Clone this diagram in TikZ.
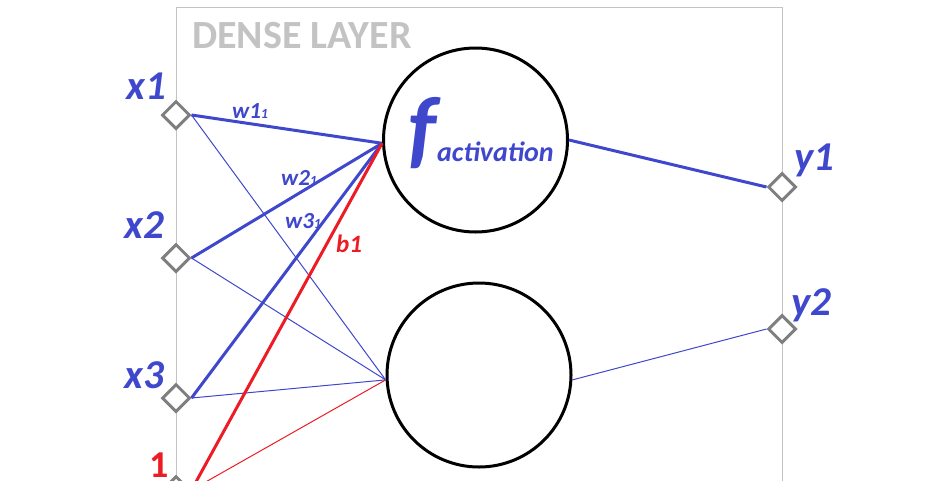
\documentclass[tikz,border=0pt]{standalone}
\usepackage{fontspec}
\setmainfont{Carlito}
\usepackage{tikz}
\usetikzlibrary{shapes}
\definecolor{wblue}{RGB}{63,72,204}
\definecolor{bred}{RGB}{237,28,36}
\definecolor{portgray}{RGB}{127,127,127}
\definecolor{framegray}{RGB}{195,195,195}
\newcommand{\setsz}[1]{\fontsize{#1}{#1}\selectfont}
\newcommand{\wsub}[1]{w#1{\setsz{14}1}}
\tikzstyle{port}=[diamond,inner sep=0,minimum size=28pt,draw=portgray,line width=3pt,fill=white]
\tikzstyle{neuron}=[circle,inner sep=0,minimum size=184pt,draw=black,line width=3pt,fill=white]
\tikzstyle{strong}=[line width=3pt]
\tikzstyle{weak}=[line width=1pt]
\tikzstyle{iolabel}=[anchor=base west,inner sep=0,font=\setsz{41}\bfseries\itshape]
\tikzstyle{wlabel}=[anchor=base west,inner sep=0,text=wblue,font=\setsz{23}\bfseries\itshape]

\begin{document}
\begin{tikzpicture}[x=1pt,y=-1pt]
  \useasboundingbox (0,0) rectangle (945,480);
  \clip (0,0) rectangle (945,480);
  \draw [framegray, line width=1pt] (176,7) rectangle (782,520);
  \node [anchor=base west, inner sep=0, text=framegray, font=\setsz{40}\bfseries] at (192,48) (title) {DENSE LAYER};

  \node [port] at (176, 115) (x1) {};
  \node [port] at (176, 258) (x2) {};
  \node [port] at (176, 398) (x3) {};
  \node [port] at (176, 490) (one) {};
  \node [port] at (782, 187) (y1) {};
  \node [port] at (782, 329) (y2) {};
  \node [neuron] at (475.5, 140) (n1) {};
  \node [neuron] at (479, 375) (n2) {};

  \draw [weak, wblue] (x1.east) -- (n2.183);
  \draw [weak, wblue] (x2.east) -- (n2.183);
  \draw [weak, wblue] (x3.east) -- (n2.183);
  \draw [weak, bred] (one.east) -- (n2.183);
  \draw [weak, wblue] (n2.357) -- (y2.west);
  \draw [strong, wblue] (x1.east) -- (n1.182);
  \draw [strong, wblue] (x2.east) -- (n1.182);
  \draw [strong, wblue] (x3.east) -- (n1.182);
  \draw [strong, bred] (one.east) -- (n1.182);
  \draw [strong, wblue] (n1.east) -- (y1.west);

  \node [iolabel, text=wblue] at (126, 99) (lx1) {x1};
  \node [iolabel, text=wblue] at (124, 238) (lx2) {x2};
  \node [iolabel, text=wblue] at (124, 388) (lx3) {x3};
  \node [iolabel, text=bred, font=\setsz{38}\bfseries] at (149, 477) (lone) {1};
  \node [iolabel, text=wblue] at (794, 170) (ly1) {y1};
  \node [iolabel, text=wblue] at (791, 315) (ly2) {y2};

  \node [wlabel] at (232, 118) (w1) {\wsub{1}};
  \node [wlabel] at (281, 185) (w2) {\wsub{2}};
  \node [wlabel] at (285, 228) (w3) {\wsub{3}};
  \node [wlabel, text=bred, font=\setsz{25}\bfseries\itshape] at (336, 252) (b1) {b1};

  \node [anchor=base west, inner sep=0, text=wblue, font=\setsz{88}\bfseries\itshape] at (408, 158) (f) {f};
  \node [anchor=base west, inner sep=0, text=wblue, font=\setsz{28}\bfseries\itshape] at (437, 161) (act) {activation};
\end{tikzpicture}
\end{document}
